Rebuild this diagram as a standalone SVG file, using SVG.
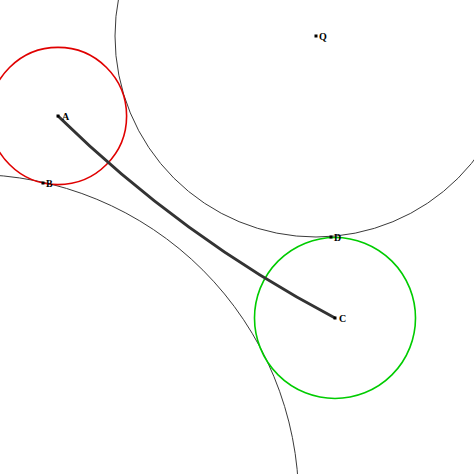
<svg xmlns="http://www.w3.org/2000/svg" width="474" height="474" viewBox="0 0 474 474">
<style>
.pt{fill:#000}
.lbl{font-family:"Liberation Serif","DejaVu Serif",serif;font-size:10px;font-weight:bold;fill:#000}
.thin{fill:none;stroke:#3a3a3a;stroke-width:1}
</style>
<rect width="474" height="474" fill="#fff"/>
<g id="circles">
<circle id="circleQ" class="thin" cx="316" cy="36" r="201"/>
<circle id="circleLower" class="thin" cx="-28.3" cy="501.4" r="327"/>
<circle id="circleA" cx="58" cy="116" r="68.6" fill="none" stroke="#e00000" stroke-width="1.6"/>
<circle id="circleC" cx="335" cy="318" r="80.5" fill="none" stroke="#00cc00" stroke-width="1.6"/>
</g>
<g id="connectors">
<path d="M58,116 A1178,1178 0 0 0 335,318" fill="none" stroke="#333" stroke-width="3"/>
</g>
<g id="A"><rect class="pt" x="56.5" y="114.5" width="3" height="3"/><text class="lbl" x="62" y="120">A</text></g>
<g id="B"><rect class="pt" x="41.5" y="181.5" width="3" height="3"/><text class="lbl" x="46" y="187">B</text></g>
<g id="Q"><rect class="pt" x="314.5" y="34.5" width="3" height="3"/><text class="lbl" x="319" y="40">Q</text></g>
<g id="D"><rect class="pt" x="329.5" y="235.5" width="3" height="3"/><text class="lbl" x="334" y="241">D</text></g>
<g id="C"><rect class="pt" x="333.5" y="316.5" width="3" height="3"/><text class="lbl" x="339" y="322">C</text></g>
</svg>
